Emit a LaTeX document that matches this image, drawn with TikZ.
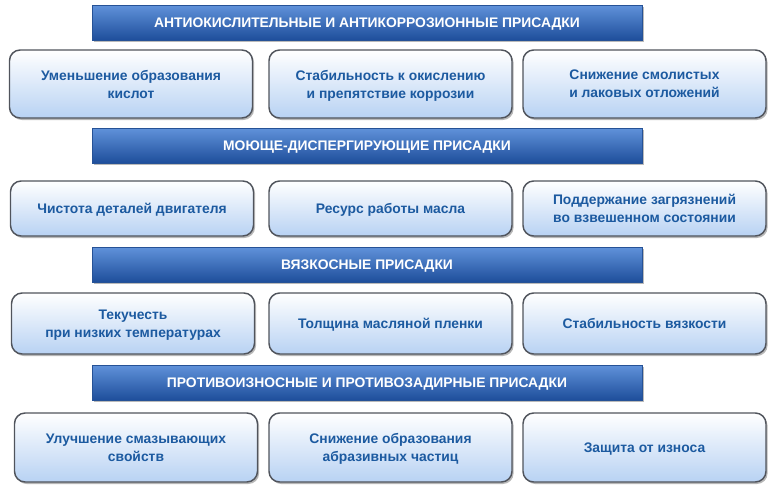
\documentclass[tikz,border=0pt]{standalone}
\usepackage{fontspec}
\setmainfont{Liberation Sans}
\usetikzlibrary{shadows}
\definecolor{txtblue}{RGB}{28,90,160}
\definecolor{bantop}{RGB}{96,146,218}
\definecolor{banbot}{RGB}{30,78,155}
\definecolor{bandraw}{RGB}{38,82,150}
\definecolor{boxbot}{RGB}{184,210,243}
\definecolor{boxdraw}{RGB}{80,84,92}
\tikzset{
  banner/.style={minimum width=550*0.75pt, minimum height=35*0.75pt, inner sep=0pt,
    top color=bantop, bottom color=banbot, draw=bandraw, line width=0.6pt,
    text=white, font=\bfseries\fontsize{10.4}{12}\selectfont, text depth=0pt,
    drop shadow={shadow xshift=1.5pt, shadow yshift=-1.5pt, opacity=0.45, fill=black!60}},
  itembox/.style={minimum width=243*0.75pt, inner sep=0pt, rounded corners=8pt,
    top color=white, bottom color=boxbot, draw=boxdraw, line width=1.1pt,
    text=txtblue, align=center, font=\bfseries\fontsize{10.4}{13.6}\selectfont, text depth=0pt,
    drop shadow={shadow xshift=1.2pt, shadow yshift=-1.5pt, opacity=0.4, fill=black!70}}
}
\begin{document}
\begin{tikzpicture}[x=0.75pt,y=-0.75pt]
\useasboundingbox (0,0) rectangle (773,496);
% banners
\node[banner] (b1) at (367,22.5) {АНТИОКИСЛИТЕЛЬНЫЕ И АНТИКОРРОЗИОННЫЕ ПРИСАДКИ};
\node[banner] (b2) at (367,145.5) {МОЮЩЕ-ДИСПЕРГИРУЮЩИЕ ПРИСАДКИ};
\node[banner] (b3) at (367,264.5) {ВЯЗКОСНЫЕ ПРИСАДКИ};
\node[banner] (b4) at (367,382.5) {ПРОТИВОИЗНОСНЫЕ И ПРОТИВОЗАДИРНЫЕ ПРИСАДКИ};
% row 1
\node[itembox, minimum height=68*0.75pt] (r1a) at (131,84) {Уменьшение образования\\кислот};
\node[itembox, minimum height=68*0.75pt] (r1b) at (390.5,84) {Стабильность к окислению\\и препятствие коррозии};
\node[itembox, minimum height=68*0.75pt] (r1c) at (644.5,84) {Снижение смолистых\\и лаковых отложений};
% row 2
\node[itembox, minimum height=55*0.75pt] (r2a) at (132,208.5) {Чистота деталей двигателя};
\node[itembox, minimum height=55*0.75pt] (r2b) at (390.5,208.5) {Ресурс работы масла};
\node[itembox, minimum height=55*0.75pt] (r2c) at (644.5,208.5) {Поддержание загрязнений\\во взвешенном состоянии};
% row 3
\node[itembox, minimum height=61*0.75pt] (r3a) at (133,323.5) {Текучесть\\при низких температурах};
\node[itembox, minimum height=61*0.75pt] (r3b) at (390.5,323.5) {Толщина масляной пленки};
\node[itembox, minimum height=61*0.75pt] (r3c) at (644.5,323.5) {Стабильность вязкости};
% row 4
\node[itembox, minimum height=69*0.75pt] (r4a) at (136,447.5) {Улучшение смазывающих\\свойств};
\node[itembox, minimum height=69*0.75pt] (r4b) at (390.5,447.5) {Снижение образования\\абразивных частиц};
\node[itembox, minimum height=69*0.75pt] (r4c) at (644.5,447.5) {Защита от износа};
\end{tikzpicture}
\end{document}
